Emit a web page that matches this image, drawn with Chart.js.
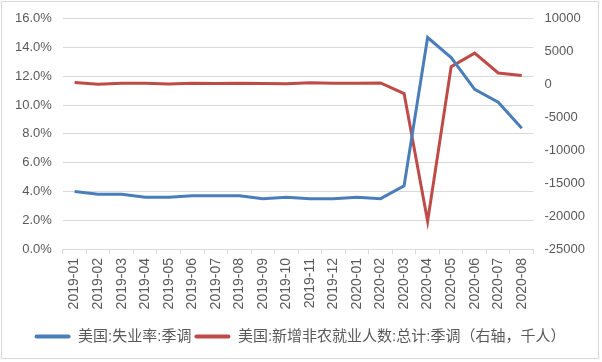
<!DOCTYPE html>
<html>
<head>
<meta charset="utf-8">
<script src="https://cdn.jsdelivr.net/npm/chart.js@4.4.0/dist/chart.umd.min.js"></script>
<style>
  body { margin: 0; background: #fff; }
  #wrap { width: 602px; height: 362px; position: relative; }
</style>
</head>
<body>
<div id="wrap"><canvas id="line-chart" width="602" height="362"></canvas></div>
<script>

var months = ["2019-01","2019-02","2019-03","2019-04","2019-05","2019-06","2019-07","2019-08","2019-09","2019-10",
              "2019-11","2019-12","2020-01","2020-02","2020-03","2020-04","2020-05","2020-06","2020-07","2020-08"];
var unemployment = [4.0, 3.8, 3.8, 3.6, 3.6, 3.7, 3.7, 3.7, 3.5, 3.6,
                    3.5, 3.5, 3.6, 3.5, 4.4, 14.7, 13.3, 11.1, 10.2, 8.4];
var payrolls = [312, 56, 189, 216, 75, 193, 164, 219, 180, 128,
                266, 184, 214, 251, -1373, -20787, 2725, 4781, 1761, 1371];
var labelUnemp = "美国:失业率:季调";
var labelPay = "美国:新增非农就业人数:总计:季调（右轴，千人）";

var FONT = "'Liberation Sans', 'Noto Sans CJK SC', sans-serif";
var TXT = "#595959";

var frame = {
  id: "frame",
  afterDraw: function(chart) {
    var ctx = chart.ctx;
    ctx.save();
    ctx.strokeStyle = "#d9d9d9";
    ctx.lineWidth = 1;
    ctx.strokeRect(1.5, 1.5, 597, 357);
    ctx.restore();
  }
};

var chart = new Chart(document.getElementById("line-chart"), {
  type: "line",
  data: {
    labels: months,
    datasets: [{
        label: labelUnemp,
        data: unemployment,
        borderColor: "#4a7ebb",
        backgroundColor: "#4a7ebb",
        borderWidth: 3,
        pointRadius: 0,
        tension: 0,
        yAxisID: "y"
      }, {
        label: labelPay,
        data: payrolls,
        borderColor: "#be4b48",
        backgroundColor: "#be4b48",
        borderWidth: 3,
        pointRadius: 0,
        tension: 0,
        yAxisID: "y1"
      }
    ]
  },
  options: {
    responsive: false,
    animation: false,
    layout: { padding: { left: 4, right: 6, top: 17, bottom: 8 } },
    scales: {
      x: {
        offset: true,
        grid: { offset: true, drawOnChartArea: false, color: "#d9d9d9", tickLength: 5 },
        border: { color: "#d9d9d9" },
        afterFit: function(s) { s.height = 77; },
        ticks: { color: TXT, font: { family: FONT, size: 14 }, minRotation: 90, maxRotation: 90, autoSkip: false, padding: 4 }
      },
      y: {
        position: "left",
        min: 0,
        max: 16,
        grid: { color: "#d9d9d9", drawTicks: false },
        border: { display: false },
        ticks: { stepSize: 2, color: TXT, font: { family: FONT, size: 13 }, padding: 11,
                 callback: function(v) { return v.toFixed(1) + "%"; } }
      },
      y1: {
        position: "right",
        min: -25000,
        max: 10000,
        grid: { drawOnChartArea: false, drawTicks: false },
        border: { display: false },
        ticks: { stepSize: 5000, color: TXT, font: { family: FONT, size: 13 }, padding: 11,
                 callback: function(v) { return String(v); } }
      }
    },
    plugins: {
      legend: {
        position: "bottom",
        align: "center",
        labels: {
          color: TXT,
          font: { family: FONT, size: 15 },
          boxWidth: 36,
          boxHeight: 4,
          padding: 3,
          useBorderRadius: true,
          borderRadius: 2,
          generateLabels: function(c) {
            return Chart.defaults.plugins.legend.labels.generateLabels(c).map(function(l) {
              l.lineWidth = 0;
              return l;
            });
          }
        }
      },
      tooltip: { enabled: false }
    }
  },
  plugins: [frame]
});

</script>
</body>
</html>
